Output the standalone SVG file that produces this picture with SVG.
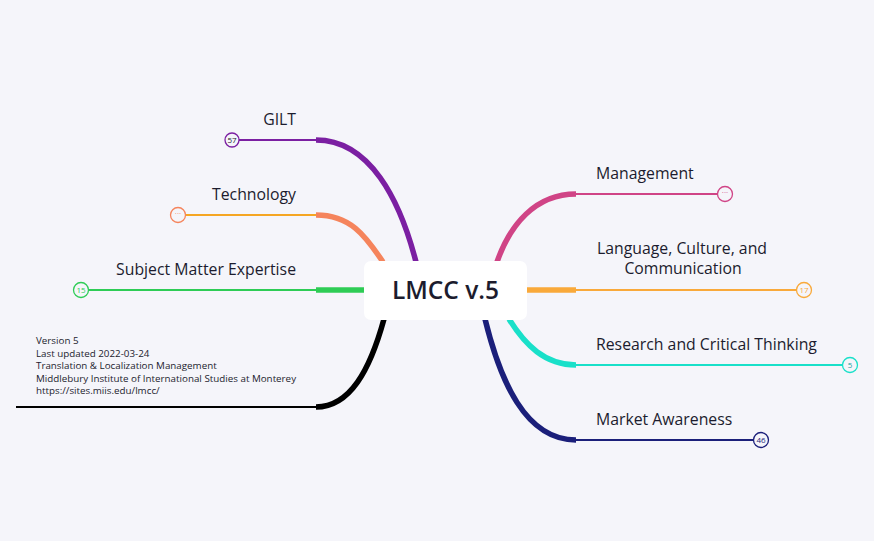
<svg xmlns="http://www.w3.org/2000/svg" width="874" height="541" viewBox="0 0 874 541">
<style>
text{font-family:"Open Sans",Lato,sans-serif;fill:#1c1c2e}
.lbl{font-size:15.8px}
.thick{fill:none;stroke-width:5.5;stroke-linecap:butt}
.thin{fill:none;stroke-width:2}
.dot{fill:#f5f5fa;stroke-width:1.3}
.n{font-size:8px;text-anchor:middle}
.info{font-size:9.8px}
</style>
<rect width="874" height="541" fill="#f5f5fa"/>
<g id="connectors">
<path class="thick" stroke="#7b1fa2" d="M416,262 C400,200 370,140 316,140"/>
<path class="thin" stroke="#7b1fa2" d="M316,140 H239"/>
<path class="thick" stroke="#f5845c" d="M383,262 C365,235 350,215 316,215"/>
<path class="thin" stroke="#f5a623" d="M316,215 H185"/>
<path class="thick" stroke="#2ecc55" d="M364,290 H316" stroke-width="3.5"/>
<path class="thin" stroke="#2ecc55" d="M316,290 H88"/>
<path class="thick" stroke="#000" d="M384,319 C370,370 350,407 316,407"/>
<path class="thin" stroke="#000" d="M316,407 H16"/>
<path class="thick" stroke="#d04486" d="M497,262 C510,225 535,194 576,194"/>
<path class="thin" stroke="#d04486" d="M576,194 H718"/>
<path class="thick" stroke="#f9a93a" d="M527,290 H576" stroke-width="3.5"/>
<path class="thin" stroke="#f9a93a" d="M576,290 H797"/>
<path class="thick" stroke="#19e0c9" d="M509,319 C525,345 545,365 576,365"/>
<path class="thin" stroke="#19e0c9" d="M576,365 H843"/>
<path class="thick" stroke="#1b1f7a" d="M485,319 C500,380 525,440 576,440"/>
<path class="thin" stroke="#1b1f7a" d="M576,440 H754"/>
</g>
<g id="center">
<rect x="364" y="261" width="163" height="59" rx="7" fill="#fff"/>
<text x="445.5" y="299" font-size="24.5" font-weight="600" text-anchor="middle" fill="#000">LMCC v.5</text>
</g>
<g id="gilt">
<text class="lbl" x="296" y="125" text-anchor="end">GILT</text>
<circle class="dot" cx="232" cy="140" r="7" stroke="#7b1fa2"/>
<text class="n" x="232" y="143" fill="#7b1fa2">57</text>
</g>
<g id="technology">
<text class="lbl" x="296" y="200" text-anchor="end">Technology</text>
<circle class="dot" cx="178" cy="215" r="7.5" stroke="#f5845c"/>
<text class="n" x="178" y="216" style="fill:#f5845c">···</text>
</g>
<g id="sme">
<text class="lbl" x="296" y="275" text-anchor="end">Subject Matter Expertise</text>
<circle class="dot" cx="81" cy="290" r="7.5" stroke="#2ecc55"/>
<text class="n" x="81" y="293" style="fill:#2ecc55">15</text>
</g>
<g id="info">
<text class="info" x="36" y="344">Version 5</text>
<text class="info" x="36" y="357">Last updated 2022-03-24</text>
<text class="info" x="36" y="369">Translation &amp; Localization Management</text>
<text class="info" x="36" y="382">Middlebury Institute of International Studies at Monterey</text>
<text class="info" x="36" y="394">https://sites.miis.edu/lmcc/</text>
</g>
<g id="management">
<text class="lbl" x="596" y="179">Management</text>
<circle class="dot" cx="725" cy="194" r="7.5" stroke="#d04486"/>
<text class="n" x="725" y="195" style="fill:#d04486">···</text>
</g>
<g id="language">
<text class="lbl" x="682" y="254" text-anchor="middle">Language, Culture, and</text>
<text class="lbl" x="683" y="274" text-anchor="middle">Communication</text>
<circle class="dot" cx="804" cy="290" r="7.5" stroke="#f9a93a"/>
<text class="n" x="804" y="293" style="fill:#f9a93a">17</text>
</g>
<g id="research">
<text class="lbl" x="596" y="350">Research and Critical Thinking</text>
<circle class="dot" cx="850" cy="365" r="7.5" stroke="#19e0c9"/>
<text class="n" x="850" y="368" style="fill:#19a0a0">5</text>
</g>
<g id="market">
<text class="lbl" x="596" y="425">Market Awareness</text>
<circle class="dot" cx="761" cy="440" r="7.5" stroke="#1b1f7a"/>
<text class="n" x="761" y="443" style="fill:#1b1f7a">46</text>
</g>
</svg>
